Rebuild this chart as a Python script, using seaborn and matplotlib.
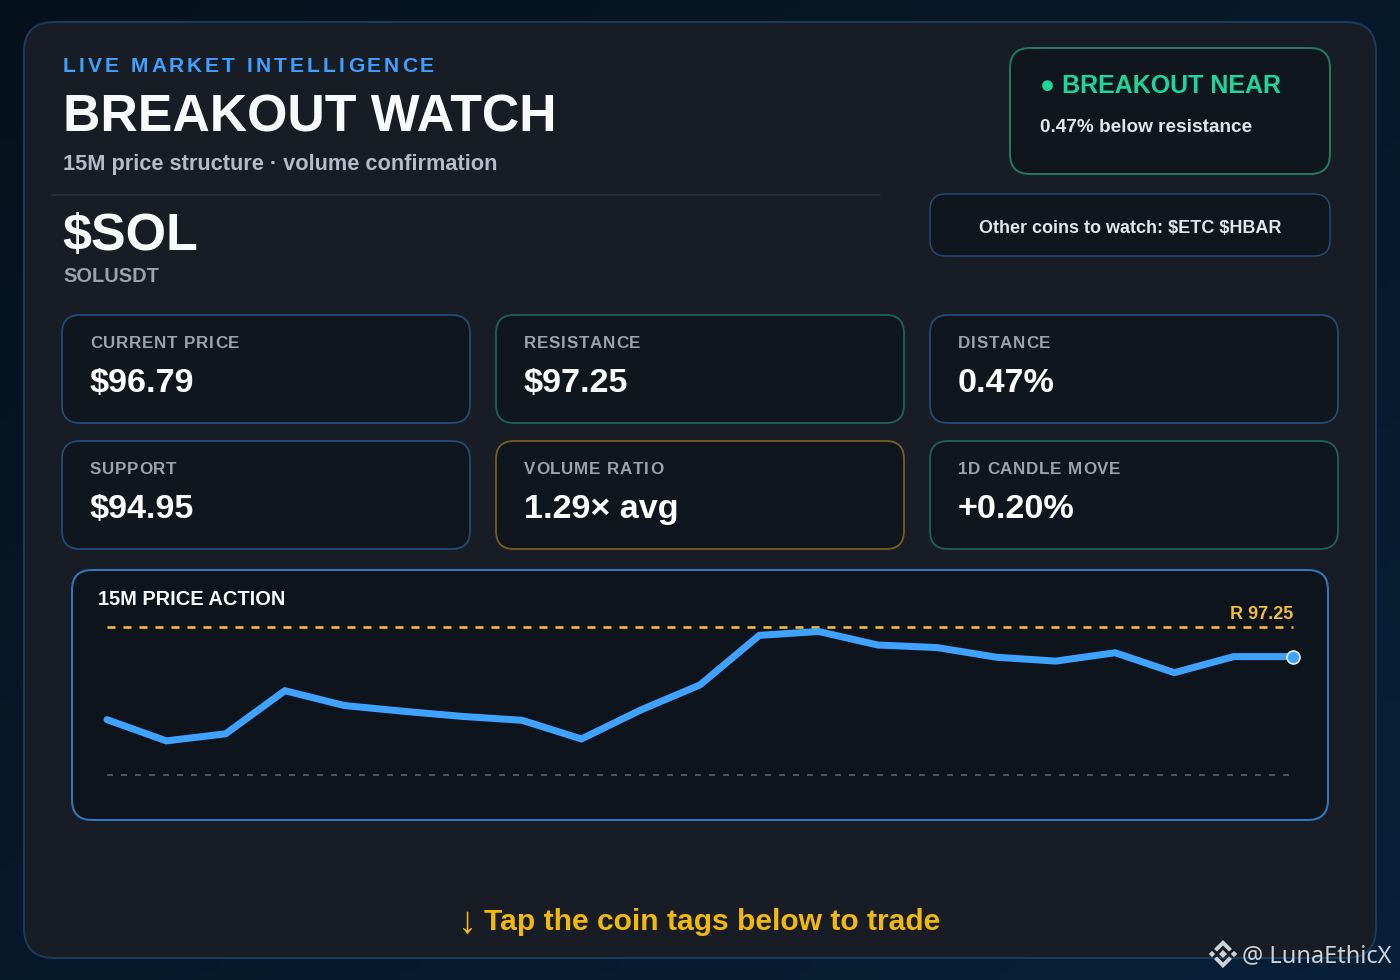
import matplotlib
matplotlib.use("Agg")
import matplotlib.pyplot as plt
import seaborn as sns
import pandas as pd
import numpy as np
from matplotlib.font_manager import FontProperties
from matplotlib.patches import FancyBboxPatch, Polygon
from matplotlib.textpath import text_to_path

# values
prices = [95.81, 95.48, 95.59, 96.26, 96.03, 95.94, 95.86, 95.80, 95.51, 95.96, 96.35,
          97.12, 97.18, 96.97, 96.93, 96.78, 96.72, 96.85, 96.54, 96.79, 96.79]
resistance = 97.25
support = 94.95
card_labels = ["CURRENT PRICE", "RESISTANCE", "DISTANCE", "SUPPORT", "VOLUME RATIO", "1D CANDLE MOVE"]
card_values = ["$96.79", "$97.25", "0.47%", "$94.95", "1.29× avg", "+0.20%"]
card_edges = ["#214c78", "#1b6555", "#214c78", "#214c78", "#755f24", "#1b6555"]

sns.set_theme(style="dark")
plt.rcParams["font.family"] = ["Liberation Sans", "DejaVu Sans"]
plt.rcParams["lines.scale_dashes"] = False

W, H = 1400, 980
PX = 0.72  # px to pt at dpi 100

fig = plt.figure(figsize=(14, 9.8), dpi=100)
bg = fig.add_axes([0, 0, 1, 1])
bg.set_xlim(0, W)
bg.set_ylim(H, 0)
bg.axis("off")

# page background, dark navy getting bluer to the bottom right
yy, xx = np.mgrid[0:1:98j, 0:1:140j]
t = (xx + yy) / 2
c0, c1 = np.array([5, 18, 29]) / 255, np.array([8, 32, 56]) / 255
grad = c0 + (c1 - c0) * t[..., None]
bg.imshow(grad, extent=[0, W, H, 0], aspect="auto", zorder=0)
bg.set_xlim(0, W)
bg.set_ylim(H, 0)


def box(x, y, w, h, r, fc, ec, lw=1.5):
    bg.add_patch(FancyBboxPatch((x, y), w, h, boxstyle=f"round,pad=0,rounding_size={r}",
                                fc=fc, ec=ec, lw=lw * PX, zorder=1))


def label(x, y, s, px, color, weight="bold", **kw):
    return bg.text(x, y, s, fontsize=px * PX, color=color, fontweight=weight, va="baseline", zorder=3,
                   parse_math=False, **kw)


def spaced(x, y, s, px, color, gap):
    # letter spacing, matplotlib has none. glyphs land on whole pixels anyway so step in whole pixels
    prop = FontProperties(family="Liberation Sans", weight="bold", size=px * PX)
    width = lambda c: text_to_path.get_text_width_height_descent(c, prop, False)[0] * 100 / 72
    base = width("HH")
    pos = x
    for ch in s:
        label(pos, y, ch, px, color)
        pos += round(width("H" + ch + "H") - base) + gap


box(24, 22, 1352, 936, 30, "#181d25", "#1b3b5c", 2)

spaced(63, 72, "LIVE MARKET INTELLIGENCE", 21, "#3ea0ff", 3)
label(63, 132, "BREAKOUT WATCH", 51.7, "#f8fafc")
label(63, 170, "15M price structure · volume confirmation", 21.8, "#b4bcc8")
bg.plot([52, 880], [195, 195], color="#29323c", lw=1.5 * PX, zorder=2)
label(62, 250, "$SOL", 52, "#f8fafc")
label(63, 282, "SOLUSDT", 20, "#9ca3af")

# status boxes
box(1010, 48, 320, 126, 20, "#10161d", "#1f7a60", 2)
label(1040, 93, "● BREAKOUT NEAR", 25, "#1fd69a")
label(1040, 132, "0.47% below resistance", 19, "#e2e6ec")
box(930, 194, 400, 62, 16, "#10161d", "#214c78", 1.5)
label(1130, 233, "Other coins to watch: $ETC $HBAR", 18, "#e2e6ec", ha="center")

# metric cards
for i in range(len(card_labels)):
    col, row = i % 3, i // 3
    x, y = 62 + col * 434, 315 + row * 126
    box(x, y, 408, 108, 18, "#10161d", card_edges[i], 1.8)
    spaced(x + 28, y + 33, card_labels[i], 17, "#9ca3af", 1)
    label(x + 28, y + 77, card_values[i], 34.2, "#ffffff")

# price panel
box(72, 570, 1256, 250, 20, "#0d141c", "#2f78be", 2)
label(98, 605, "15M PRICE ACTION", 20, "#f8fafc")

# chart axes sit on the panel, limits set so index 0..20 spans the line and the levels land right
ax = fig.add_axes([72 / W, 1 - 820 / H, 1256 / W, 250 / H])
ax.patch.set_alpha(0)
for s in ax.spines.values():
    s.set_visible(False)
ax.set_xticks([])
ax.set_yticks([])
ax.grid(False)
per_px_x = (len(prices) - 1) / (1293 - 107)
per_px_y = (resistance - support) / (775 - 627)
ax.set_xlim(-(107 - 72) * per_px_x, (len(prices) - 1) + (1328 - 1293) * per_px_x)
ax.set_ylim(support - (820 - 775) * per_px_y, resistance + (627 - 570) * per_px_y)

df = pd.DataFrame({"idx": range(len(prices)), "price": prices})
n = len(prices) - 1
ax.plot([0, n], [resistance, resistance], color="#f2bd3a", lw=2.6 * PX, dashes=(8 * PX, 8 * PX), zorder=2)
ax.plot([0, n], [support, support], color="#4a5560", lw=2 * PX, dashes=(6 * PX, 8 * PX), zorder=2)
sns.lineplot(data=df, x="idx", y="price", ax=ax, color="#3fa2ff", linewidth=7 * PX, zorder=3,
             errorbar=None, estimator=None, solid_joinstyle="miter", solid_capstyle="round")
sns.scatterplot(data=df.tail(1), x="idx", y="price", ax=ax, color="#3fa2ff", s=(13 * PX) ** 2,
                edgecolor="white", linewidth=1.5 * PX, zorder=4, clip_on=False)
ax.set_xlabel("")
ax.set_ylabel("")
ax.text(n, resistance + 8 * per_px_y, f"R {resistance}", ha="right", va="baseline", color="#f2bd3a",
        fontsize=18 * PX, fontweight="bold")

# footer
label(458, 933, "↓", 38, "#f0b90b", weight="normal")
label(484, 930, "Tap the coin tags below to trade", 30, "#f0b90b")

# watermark
wm = "#cfd2d6"
cx, cy = 1223, 954
for dx, dy, r in [(0, 0, 4), (-11, 0, 3.2), (11, 0, 3.2)]:
    bg.add_patch(Polygon([(cx + dx - r, cy + dy), (cx + dx, cy + dy - r), (cx + dx + r, cy + dy), (cx + dx, cy + dy + r)],
                         fc=wm, ec="none", zorder=5))
for sg in (-1, 1):
    bg.add_patch(Polygon([(cx - 9, cy + sg * 5), (cx, cy + sg * 14), (cx + 9, cy + sg * 5), (cx + 6, cy + sg * 2.5),
                          (cx, cy + sg * 8.5), (cx - 6, cy + sg * 2.5)], fc=wm, ec="none", zorder=5))
label(1242, 962, "@ LunaEthicX", 23.6, wm, weight="normal", family="Noto Sans")

fig.savefig("out.png", dpi=100)
